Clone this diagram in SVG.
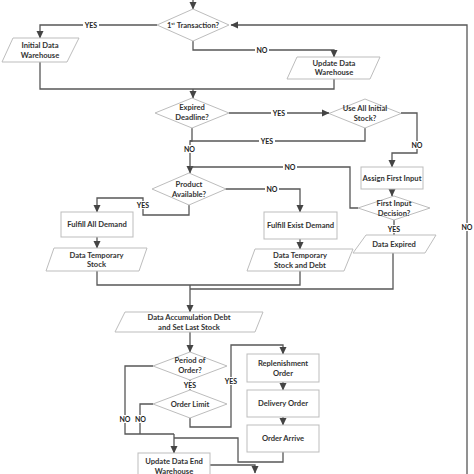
<svg xmlns="http://www.w3.org/2000/svg" width="474" height="474" viewBox="0 0 474 474">
<style>
.n{fill:#fff;stroke:#bdbdbd;stroke-width:1}
.t{font-family:Lato,"Liberation Sans",sans-serif;font-weight:bold;font-size:7.6px;fill:#333;text-anchor:middle}
.c{fill:none;stroke:#575757;stroke-width:1.3}
.lb{font-family:Lato,"Liberation Sans",sans-serif;font-weight:bold;font-size:7px;fill:#222;text-anchor:middle}
.bg{fill:#fff}
</style>
<defs>
<marker id="a" markerWidth="8" markerHeight="8" refX="7" refY="4" orient="auto" markerUnits="userSpaceOnUse">
<path d="M0,0.5 L7.5,4 L0,7.5 z" fill="#444"/>
</marker>
</defs>
<rect width="474" height="474" fill="#fff"/>
<g id="connectors">
<path class="c" d="M193,0 V9" marker-end="url(#a)"/>
<path class="c" d="M157,25 H40 V38" marker-end="url(#a)"/>
<path class="c" d="M193,41 V50 H334 V57" marker-end="url(#a)"/>
<path class="c" d="M40,62 V89 H334 V79"/>
<path class="c" d="M193,89 V98" marker-end="url(#a)"/>
<path class="c" d="M467,474 V25 H231" marker-end="url(#a)"/>
<path class="c" d="M229,113 H329" marker-end="url(#a)"/>
<path class="c" d="M192,128 V141 H190 V173" marker-end="url(#a)"/>
<path class="c" d="M365,128 V141 H190"/>
<path class="c" d="M401,113 H417 V153 H392 V167" marker-end="url(#a)"/>
<path class="c" d="M392,189 V196" marker-end="url(#a)"/>
<path class="c" d="M358,208 H350 V167 H190"/>
<path class="c" d="M394,220 V235"/>
<path class="c" d="M189,205 V215 H143 V198 H97 V212" marker-end="url(#a)"/>
<path class="c" d="M225,189 H300 V212" marker-end="url(#a)"/>
<path class="c" d="M97,237 V248" marker-end="url(#a)"/>
<path class="c" d="M300,239 V249" marker-end="url(#a)"/>
<path class="c" d="M97,271 V285 H300 V271"/>
<path class="c" d="M393,253 V289 H190"/>
<path class="c" d="M190,285 V312" marker-end="url(#a)"/>
<path class="c" d="M190,332 V352" marker-end="url(#a)"/>
<path class="c" d="M190,380 V390"/>
<path class="c" d="M153,366 H125 V434 H174"/>
<path class="c" d="M153,404 H140 V434"/>
<path class="c" d="M174,434 V453" marker-end="url(#a)"/>
<path class="c" d="M190,418 V427 H231 V345 H283 V354" marker-end="url(#a)"/>
<path class="c" d="M283,382 V390" marker-end="url(#a)"/>
<path class="c" d="M283,417 V425" marker-end="url(#a)"/>
<path class="c" d="M283,452 V462 H238 V438 H174"/>
<path class="c" d="M210,465 H255 V473" marker-end="url(#a)"/>
<g id="labels">
<rect class="bg" x="83" y="21" width="16" height="8"/><text class="lb" x="91" y="27.5">YES</text>
<rect class="bg" x="255" y="46" width="14" height="8"/><text class="lb" x="262" y="52.5">NO</text>
<rect class="bg" x="271" y="109" width="16" height="8"/><text class="lb" x="279" y="115.5">YES</text>
<rect class="bg" x="259" y="137" width="16" height="8"/><text class="lb" x="267" y="143.5">YES</text>
<rect class="bg" x="183" y="145" width="13" height="8"/><text class="lb" x="189.5" y="151.5">NO</text>
<rect class="bg" x="283" y="163" width="14" height="8"/><text class="lb" x="290" y="169.5">NO</text>
<rect class="bg" x="410" y="141" width="14" height="8"/><text class="lb" x="417" y="147.5">NO</text>
<rect class="bg" x="135" y="201" width="16" height="8"/><text class="lb" x="143" y="207.5">YES</text>
<rect class="bg" x="265" y="185" width="14" height="8"/><text class="lb" x="272" y="191.5">NO</text>
<rect class="bg" x="386" y="225" width="16" height="8"/><text class="lb" x="394" y="231.5">YES</text>
<rect class="bg" x="460" y="223" width="14" height="8"/><text class="lb" x="467" y="229.5">NO</text>
<rect class="bg" x="182" y="381" width="16" height="8"/><text class="lb" x="190" y="387.5">YES</text>
<rect class="bg" x="223" y="377" width="16" height="8"/><text class="lb" x="231" y="383.5">YES</text>
<rect class="bg" x="118" y="415" width="14" height="8"/><text class="lb" x="125" y="421.5">NO</text>
<rect class="bg" x="133" y="415" width="14" height="8"/><text class="lb" x="140.5" y="421.5">NO</text>
</g>
</g>
<g id="n1"><path class="n" d="M193,9 L229,25 L193,41 L157,25 z"/><text class="t" x="193" y="27.5">1<tspan font-size="4.5" dy="-3">st</tspan><tspan dy="3"> Transaction?</tspan></text></g>
<g id="n2"><path class="n" d="M13,38 H79 L67,62 H2 z"/><text class="t" x="40" y="47.5">Initial Data</text><text class="t" x="40" y="57.5">Warehouse</text></g>
<g id="n3"><path class="n" d="M297,57 H380 L370,79 H287 z"/><text class="t" x="334" y="65.5">Update Data</text><text class="t" x="334" y="75">Warehouse</text></g>
<g id="n4"><path class="n" d="M192,98 L229,113 L192,128 L155,113 z"/><text class="t" x="192" y="110">Expired</text><text class="t" x="192" y="120">Deadline?</text></g>
<g id="n5"><path class="n" d="M365,99 L401,113.5 L365,128 L329,113.5 z"/><text class="t" x="365" y="111">Use All Initial</text><text class="t" x="365" y="121">Stock?</text></g>
<g id="n6"><rect class="n" x="361" y="167" width="62" height="22"/><text class="t" x="392" y="180.5">Assign First Input</text></g>
<g id="n7"><path class="n" d="M394,196 L430,208 L394,220 L358,208 z"/><text class="t" x="394" y="206">First Input</text><text class="t" x="394" y="215.5">Decision?</text></g>
<g id="n8"><path class="n" d="M366,235 H436 L425,253 H353 z"/><text class="t" x="394" y="246.5">Data Expired</text></g>
<g id="n9"><path class="n" d="M189,173 L226,189 L189,205 L152,189 z"/><text class="t" x="189" y="187">Product</text><text class="t" x="189" y="197">Available?</text></g>
<g id="n10"><rect class="n" x="61" y="212" width="72" height="25"/><text class="t" x="97" y="227">Fulfill All Demand</text></g>
<g id="n11"><path class="n" d="M54,248 H147 L139,271 H46 z"/><text class="t" x="96.5" y="257.5">Data Temporary</text><text class="t" x="96.5" y="267">Stock</text></g>
<g id="n12"><rect class="n" x="264" y="212" width="73" height="27"/><text class="t" x="300.5" y="228">Fulfill Exist Demand</text></g>
<g id="n13"><path class="n" d="M255,249 H353 L344,271 H247 z"/><text class="t" x="300" y="258">Data Temporary</text><text class="t" x="300" y="267.5">Stock and Debt</text></g>
<g id="n14"><path class="n" d="M125,312 H263 L255,332 H115 z"/><text class="t" x="189" y="320">Data Accumulation Debt</text><text class="t" x="189" y="329.5">and Set Last Stock</text></g>
<g id="n15"><path class="n" d="M190,352 L227,366 L190,380 L153,366 z"/><text class="t" x="190" y="363">Period of</text><text class="t" x="190" y="373">Order?</text></g>
<g id="n16"><path class="n" d="M190,390 L227,404 L190,418 L153,404 z"/><text class="t" x="190" y="406.5">Order Limit</text></g>
<g id="n17"><rect class="n" x="138" y="453" width="72" height="26"/><text class="t" x="174" y="464">Update Data End</text><text class="t" x="174" y="473.5">Warehouse</text></g>
<g id="n18"><rect class="n" x="247" y="354" width="72" height="28"/><text class="t" x="283" y="366">Replenishment</text><text class="t" x="283" y="376">Order</text></g>
<g id="n19"><rect class="n" x="247" y="390" width="72" height="27"/><text class="t" x="283" y="406">Delivery Order</text></g>
<g id="n20"><rect class="n" x="247" y="425" width="72" height="27"/><text class="t" x="283" y="441">Order Arrive</text></g>
</svg>
